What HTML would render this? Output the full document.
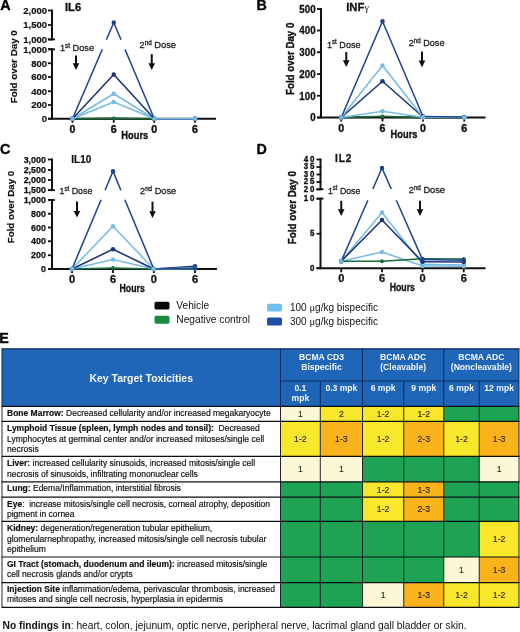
<!DOCTYPE html>
<html lang="en">
<head>
<meta charset="utf-8">
<title>Figure</title>
<style>
html,body{margin:0;padding:0;background:#fff;}
body{width:520px;height:632px;overflow:hidden;}
svg{display:block;font-family:"Liberation Sans",sans-serif;}
</style>
</head>
<body>
<svg width="520" height="632" viewBox="0 0 520 632">
<rect x="0" y="0" width="520" height="632" fill="#fff"/>

<text x="0.2" y="10" font-size="14.3" font-weight="bold" fill="#000" stroke="#000" stroke-width="0.35">A</text>
<text x="256.5" y="10" font-size="14.3" font-weight="bold" fill="#000" stroke="#000" stroke-width="0.35">B</text>
<text x="0" y="154" font-size="14.3" font-weight="bold" fill="#000" stroke="#000" stroke-width="0.35">C</text>
<text x="256.5" y="154" font-size="14.3" font-weight="bold" fill="#000" stroke="#000" stroke-width="0.35">D</text>
<text x="-0.8" y="343.3" font-size="14.3" font-weight="bold" fill="#000" stroke="#000" stroke-width="0.35">E</text>
<g id="chartA">
<path d="M52,9.8 V40.2" stroke="#111" stroke-width="2" fill="none"/>
<path d="M52,48.5 V118.75" stroke="#111" stroke-width="2" fill="none"/>
<path d="M48,118.75 H216" stroke="#111" stroke-width="2" fill="none"/>
<path d="M48,39.400000000000006 H55" stroke="#111" stroke-width="1.8" fill="none"/>
<path d="M48,49.3 H55" stroke="#111" stroke-width="1.8" fill="none"/>
<path d="M48,10.5 H52.9" stroke="#111" stroke-width="1.8" fill="none"/>
<text x="47" y="13.92" font-size="9.5" font-weight="bold" text-anchor="end" fill="#111" stroke="#111" stroke-width="0.2">2,000</text>
<path d="M48,25 H52.9" stroke="#111" stroke-width="1.8" fill="none"/>
<text x="47" y="28.42" font-size="9.5" font-weight="bold" text-anchor="end" fill="#111" stroke="#111" stroke-width="0.2">1,500</text>
<path d="M48,39.5 H52.9" stroke="#111" stroke-width="1.8" fill="none"/>
<text x="47" y="42.92" font-size="9.5" font-weight="bold" text-anchor="end" fill="#111" stroke="#111" stroke-width="0.2">1,000</text>
<path d="M48,49.25 H52.9" stroke="#111" stroke-width="1.8" fill="none"/>
<text x="47" y="52.67" font-size="9.5" font-weight="bold" text-anchor="end" fill="#111" stroke="#111" stroke-width="0.2">1,000</text>
<path d="M48,63.25 H52.9" stroke="#111" stroke-width="1.8" fill="none"/>
<text x="47" y="66.67" font-size="9.5" font-weight="bold" text-anchor="end" fill="#111" stroke="#111" stroke-width="0.2">800</text>
<path d="M48,77 H52.9" stroke="#111" stroke-width="1.8" fill="none"/>
<text x="47" y="80.42" font-size="9.5" font-weight="bold" text-anchor="end" fill="#111" stroke="#111" stroke-width="0.2">600</text>
<path d="M48,91.25 H52.9" stroke="#111" stroke-width="1.8" fill="none"/>
<text x="47" y="94.67" font-size="9.5" font-weight="bold" text-anchor="end" fill="#111" stroke="#111" stroke-width="0.2">400</text>
<path d="M48,105 H52.9" stroke="#111" stroke-width="1.8" fill="none"/>
<text x="47" y="108.42" font-size="9.5" font-weight="bold" text-anchor="end" fill="#111" stroke="#111" stroke-width="0.2">200</text>
<path d="M48,118.75 H52.9" stroke="#111" stroke-width="1.8" fill="none"/>
<text x="47" y="122.17" font-size="9.5" font-weight="bold" text-anchor="end" fill="#111" stroke="#111" stroke-width="0.2">0</text>
<path d="M72.5,118.75 V122.75" stroke="#111" stroke-width="1.8" fill="none"/>
<path d="M113.75,118.75 V122.75" stroke="#111" stroke-width="1.8" fill="none"/>
<path d="M154.25,118.75 V122.75" stroke="#111" stroke-width="1.8" fill="none"/>
<path d="M195,118.75 V122.75" stroke="#111" stroke-width="1.8" fill="none"/>
<text transform="translate(16.6,66.7) rotate(-90)" font-size="9.9" font-weight="bold" text-anchor="middle" textLength="73" lengthAdjust="spacingAndGlyphs" fill="#111" stroke="#111" stroke-width="0.2">Fold over Day 0</text>
<text x="65" y="11.1" font-size="11.2" font-weight="bold" fill="#111" stroke="#111" stroke-width="0.3">IL6</text>
<text x="60" y="51" font-size="9.7" fill="#222" stroke="#222" stroke-width="0.3" textLength="34" lengthAdjust="spacingAndGlyphs">1<tspan font-size="6.6" dy="-3.3">st</tspan><tspan dy="3.3"> Dose</tspan></text>
<path d="M76,55.6 V64.30000000000001" stroke="#111" stroke-width="2" fill="none"/>
<path d="M72.7,63.300000000000004 L79.3,63.300000000000004 L76,69.9 Z" fill="#111"/>
<text x="139.5" y="48" font-size="9.7" fill="#222" stroke="#222" stroke-width="0.3" textLength="36.5" lengthAdjust="spacingAndGlyphs">2<tspan font-size="6.6" dy="-3.3">nd</tspan><tspan dy="3.3"> Dose</tspan></text>
<path d="M151.75,54.1 V64.30000000000001" stroke="#111" stroke-width="2" fill="none"/>
<path d="M148.45,63.300000000000004 L155.05,63.300000000000004 L151.75,69.9 Z" fill="#111"/>
<path d="M72.5,118.75 L113.75,118.4" stroke="#000" stroke-width="1.55" fill="none" stroke-linecap="round"/>
<path d="M113.75,118.4 L154.25,118.75" stroke="#000" stroke-width="1.55" fill="none" stroke-linecap="round"/>
<path d="M154.25,118.75 L195,118.75" stroke="#000" stroke-width="1.55" fill="none" stroke-linecap="round"/>
<circle cx="72.5" cy="118.75" r="1.6" fill="#000"/>
<circle cx="113.75" cy="118.4" r="1.6" fill="#000"/>
<circle cx="154.25" cy="118.75" r="1.6" fill="#000"/>
<circle cx="195" cy="118.75" r="1.6" fill="#000"/>
<path d="M72.5,118.75 L113.75,118.3" stroke="#136f36" stroke-width="1.6" fill="none" stroke-linecap="round"/>
<path d="M113.75,118.3 L154.25,118.75" stroke="#136f36" stroke-width="1.6" fill="none" stroke-linecap="round"/>
<path d="M154.25,118.75 L195,118.75" stroke="#136f36" stroke-width="1.6" fill="none" stroke-linecap="round"/>
<circle cx="72.5" cy="118.75" r="1.9" fill="#136f36"/>
<circle cx="113.75" cy="118.3" r="1.9" fill="#136f36"/>
<circle cx="154.25" cy="118.75" r="1.9" fill="#136f36"/>
<circle cx="195" cy="118.75" r="1.9" fill="#136f36"/>
<path d="M72.5,118.75 L113.75,102" stroke="#79bbe2" stroke-width="1.55" fill="none" stroke-linecap="round"/>
<path d="M113.75,102 L154.25,118.75" stroke="#79bbe2" stroke-width="1.55" fill="none" stroke-linecap="round"/>
<path d="M154.25,118.75 L195,118.75" stroke="#79bbe2" stroke-width="1.55" fill="none" stroke-linecap="round"/>
<circle cx="72.5" cy="118.75" r="2.25" fill="#79bbe2"/>
<circle cx="113.75" cy="102" r="2.25" fill="#79bbe2"/>
<circle cx="154.25" cy="118.75" r="2.25" fill="#79bbe2"/>
<circle cx="195" cy="118.75" r="2.25" fill="#79bbe2"/>
<path d="M72.5,118.75 L113.75,93.75" stroke="#79bbe2" stroke-width="1.55" fill="none" stroke-linecap="round"/>
<path d="M113.75,93.75 L154.25,118.75" stroke="#79bbe2" stroke-width="1.55" fill="none" stroke-linecap="round"/>
<path d="M154.25,118.75 L195,118.75" stroke="#79bbe2" stroke-width="1.55" fill="none" stroke-linecap="round"/>
<circle cx="72.5" cy="118.75" r="2.25" fill="#79bbe2"/>
<circle cx="113.75" cy="93.75" r="2.25" fill="#79bbe2"/>
<circle cx="154.25" cy="118.75" r="2.25" fill="#79bbe2"/>
<circle cx="195" cy="118.75" r="2.25" fill="#79bbe2"/>
<path d="M72.5,118.75 L113.75,74.5" stroke="#1b3579" stroke-width="1.55" fill="none" stroke-linecap="round"/>
<path d="M113.75,74.5 L154.25,118.75" stroke="#1b3579" stroke-width="1.55" fill="none" stroke-linecap="round"/>
<path d="M154.25,118.75 L195,118.75" stroke="#1b3579" stroke-width="1.55" fill="none" stroke-linecap="round"/>
<circle cx="72.5" cy="118.75" r="2.25" fill="#1b3579"/>
<circle cx="113.75" cy="74.5" r="2.25" fill="#1b3579"/>
<circle cx="154.25" cy="118.75" r="2.25" fill="#1b3579"/>
<circle cx="195" cy="118.75" r="2.25" fill="#1b3579"/>
<path d="M72.5,118.75 L102.31,49.2" stroke="#21448f" stroke-width="1.55" fill="none"/>
<path d="M106.34,39.8 L113.75,22.5" stroke="#21448f" stroke-width="1.55" fill="none"/>
<path d="M113.75,22.5 L121.03,39.8" stroke="#21448f" stroke-width="1.55" fill="none"/>
<path d="M124.98,49.2 L154.25,118.75" stroke="#21448f" stroke-width="1.55" fill="none"/>
<path d="M154.25,118.75 L195,118.75" stroke="#21448f" stroke-width="1.55" fill="none" stroke-linecap="round"/>
<circle cx="72.5" cy="118.75" r="2.25" fill="#21448f"/>
<circle cx="113.75" cy="22.5" r="2.25" fill="#21448f"/>
<circle cx="154.25" cy="118.75" r="2.25" fill="#21448f"/>
<circle cx="195" cy="118.75" r="2.25" fill="#21448f"/>
<path d="M154.25,118.75 L195,118.75" stroke="#79bbe2" stroke-width="1.5" fill="none" stroke-linecap="round"/>
<circle cx="154.25" cy="118.75" r="2.25" fill="#79bbe2"/>
<circle cx="195" cy="118.75" r="2.25" fill="#79bbe2"/>
<circle cx="72.5" cy="118.75" r="2.25" fill="#79bbe2"/>
<text transform="translate(72.5,132.6) scale(1,1)" font-size="10.6" font-weight="bold" text-anchor="middle" fill="#111" stroke="#111" stroke-width="0.4">0</text>
<text transform="translate(113.75,132.6) scale(1,1)" font-size="10.6" font-weight="bold" text-anchor="middle" fill="#111" stroke="#111" stroke-width="0.4">6</text>
<text transform="translate(154.25,132.6) scale(1,1)" font-size="10.6" font-weight="bold" text-anchor="middle" fill="#111" stroke="#111" stroke-width="0.4">0</text>
<text transform="translate(195,132.6) scale(1,1)" font-size="10.6" font-weight="bold" text-anchor="middle" fill="#111" stroke="#111" stroke-width="0.4">6</text>
<text transform="translate(134.75,138.8) scale(0.86,1)" font-size="10.8" font-weight="bold" text-anchor="middle" fill="#111" stroke="#111" stroke-width="0.35">Hours</text>
</g>
<g id="chartB">
<path d="M321,8.3 V117.5" stroke="#111" stroke-width="2" fill="none"/>
<path d="M317,117.5 H485.5" stroke="#111" stroke-width="2" fill="none"/>
<path d="M317,9 H321.9" stroke="#111" stroke-width="1.8" fill="none"/>
<text transform="translate(315.6,12.82) scale(0.92,1)" font-size="10.6" font-weight="bold" text-anchor="end" fill="#111" stroke="#111" stroke-width="0.3">500</text>
<path d="M317,30.5 H321.9" stroke="#111" stroke-width="1.8" fill="none"/>
<text transform="translate(315.6,34.32) scale(0.92,1)" font-size="10.6" font-weight="bold" text-anchor="end" fill="#111" stroke="#111" stroke-width="0.3">400</text>
<path d="M317,52.25 H321.9" stroke="#111" stroke-width="1.8" fill="none"/>
<text transform="translate(315.6,56.07) scale(0.92,1)" font-size="10.6" font-weight="bold" text-anchor="end" fill="#111" stroke="#111" stroke-width="0.3">300</text>
<path d="M317,74 H321.9" stroke="#111" stroke-width="1.8" fill="none"/>
<text transform="translate(315.6,77.82) scale(0.92,1)" font-size="10.6" font-weight="bold" text-anchor="end" fill="#111" stroke="#111" stroke-width="0.3">200</text>
<path d="M317,95.75 H321.9" stroke="#111" stroke-width="1.8" fill="none"/>
<text transform="translate(315.6,99.57) scale(0.92,1)" font-size="10.6" font-weight="bold" text-anchor="end" fill="#111" stroke="#111" stroke-width="0.3">100</text>
<path d="M317,117.5 H321.9" stroke="#111" stroke-width="1.8" fill="none"/>
<text transform="translate(315.6,121.32) scale(0.92,1)" font-size="10.6" font-weight="bold" text-anchor="end" fill="#111" stroke="#111" stroke-width="0.3">0</text>
<path d="M341.25,117.5 V121.5" stroke="#111" stroke-width="1.8" fill="none"/>
<path d="M382.5,117.5 V121.5" stroke="#111" stroke-width="1.8" fill="none"/>
<path d="M423,117.5 V121.5" stroke="#111" stroke-width="1.8" fill="none"/>
<path d="M464.25,117.5 V121.5" stroke="#111" stroke-width="1.8" fill="none"/>
<text transform="translate(293.7,58.8) rotate(-90)" font-size="11" font-weight="bold" text-anchor="middle" textLength="72.3" lengthAdjust="spacingAndGlyphs" fill="#111" stroke="#111" stroke-width="0.4">Fold over Day 0</text>
<text x="346.2" y="11.4" font-size="11.3" font-weight="bold" fill="#111" stroke="#111" stroke-width="0.3">INF<tspan font-weight="normal" stroke="none" font-family="'Liberation Serif',serif" font-size="10">γ</tspan></text>
<text x="327" y="47.5" font-size="9.7" fill="#222" stroke="#222" stroke-width="0.3" textLength="33.5" lengthAdjust="spacingAndGlyphs">1<tspan font-size="6.6" dy="-3.3">st</tspan><tspan dy="3.3"> Dose</tspan></text>
<path d="M346.25,52.1 V61.300000000000004" stroke="#111" stroke-width="2" fill="none"/>
<path d="M342.95,60.300000000000004 L349.55,60.300000000000004 L346.25,66.9 Z" fill="#111"/>
<text x="408.75" y="46.25" font-size="9.7" fill="#222" stroke="#222" stroke-width="0.3" textLength="35.75" lengthAdjust="spacingAndGlyphs">2<tspan font-size="6.6" dy="-3.3">nd</tspan><tspan dy="3.3"> Dose</tspan></text>
<path d="M422,51.6 V61.550000000000004" stroke="#111" stroke-width="2" fill="none"/>
<path d="M418.7,60.550000000000004 L425.3,60.550000000000004 L422,67.15 Z" fill="#111"/>
<path d="M341.25,117.5 L382.5,117.2" stroke="#000" stroke-width="1.55" fill="none" stroke-linecap="round"/>
<path d="M382.5,117.2 L423,117.5" stroke="#000" stroke-width="1.55" fill="none" stroke-linecap="round"/>
<path d="M423,117.5 L464.25,117.5" stroke="#000" stroke-width="1.55" fill="none" stroke-linecap="round"/>
<circle cx="341.25" cy="117.5" r="1.6" fill="#000"/>
<circle cx="382.5" cy="117.2" r="1.6" fill="#000"/>
<circle cx="423" cy="117.5" r="1.6" fill="#000"/>
<circle cx="464.25" cy="117.5" r="1.6" fill="#000"/>
<path d="M341.25,117.5 L382.5,116.3" stroke="#136f36" stroke-width="1.6" fill="none" stroke-linecap="round"/>
<path d="M382.5,116.3 L423,117.5" stroke="#136f36" stroke-width="1.6" fill="none" stroke-linecap="round"/>
<path d="M423,117.5 L464.25,117.5" stroke="#136f36" stroke-width="1.6" fill="none" stroke-linecap="round"/>
<circle cx="341.25" cy="117.5" r="1.9" fill="#136f36"/>
<circle cx="382.5" cy="116.3" r="1.9" fill="#136f36"/>
<circle cx="423" cy="117.5" r="1.9" fill="#136f36"/>
<circle cx="464.25" cy="117.5" r="1.9" fill="#136f36"/>
<path d="M341.25,117.5 L382.5,111.25" stroke="#79bbe2" stroke-width="1.55" fill="none" stroke-linecap="round"/>
<path d="M382.5,111.25 L423,117.3" stroke="#79bbe2" stroke-width="1.55" fill="none" stroke-linecap="round"/>
<path d="M423,117.3 L464.25,117.3" stroke="#79bbe2" stroke-width="1.55" fill="none" stroke-linecap="round"/>
<circle cx="341.25" cy="117.5" r="2.25" fill="#79bbe2"/>
<circle cx="382.5" cy="111.25" r="2.25" fill="#79bbe2"/>
<circle cx="423" cy="117.3" r="2.25" fill="#79bbe2"/>
<circle cx="464.25" cy="117.3" r="2.25" fill="#79bbe2"/>
<path d="M341.25,117.5 L382.5,81.25" stroke="#1b3579" stroke-width="1.55" fill="none" stroke-linecap="round"/>
<path d="M382.5,81.25 L423,117" stroke="#1b3579" stroke-width="1.55" fill="none" stroke-linecap="round"/>
<path d="M423,117 L464.25,117.2" stroke="#1b3579" stroke-width="1.55" fill="none" stroke-linecap="round"/>
<circle cx="341.25" cy="117.5" r="2.25" fill="#1b3579"/>
<circle cx="382.5" cy="81.25" r="2.25" fill="#1b3579"/>
<circle cx="423" cy="117" r="2.25" fill="#1b3579"/>
<circle cx="464.25" cy="117.2" r="2.25" fill="#1b3579"/>
<path d="M341.25,117.5 L382.5,65.5" stroke="#79bbe2" stroke-width="1.55" fill="none" stroke-linecap="round"/>
<path d="M382.5,65.5 L423,117.2" stroke="#79bbe2" stroke-width="1.55" fill="none" stroke-linecap="round"/>
<path d="M423,117.2 L464.25,117.3" stroke="#79bbe2" stroke-width="1.55" fill="none" stroke-linecap="round"/>
<circle cx="341.25" cy="117.5" r="2.25" fill="#79bbe2"/>
<circle cx="382.5" cy="65.5" r="2.25" fill="#79bbe2"/>
<circle cx="423" cy="117.2" r="2.25" fill="#79bbe2"/>
<circle cx="464.25" cy="117.3" r="2.25" fill="#79bbe2"/>
<path d="M341.25,117.5 L382.5,21.25" stroke="#21448f" stroke-width="1.55" fill="none" stroke-linecap="round"/>
<path d="M382.5,21.25 L423,116.5" stroke="#21448f" stroke-width="1.55" fill="none" stroke-linecap="round"/>
<path d="M423,116.5 L464.25,117" stroke="#21448f" stroke-width="1.55" fill="none" stroke-linecap="round"/>
<circle cx="341.25" cy="117.5" r="2.25" fill="#21448f"/>
<circle cx="382.5" cy="21.25" r="2.25" fill="#21448f"/>
<circle cx="423" cy="116.5" r="2.25" fill="#21448f"/>
<circle cx="464.25" cy="117" r="2.25" fill="#21448f"/>
<path d="M341.25,117.5 L423,117.3" stroke="#79bbe2" stroke-width="0.1" fill="none" stroke-linecap="round"/>
<path d="M423,117.3 L464.25,117.2" stroke="#79bbe2" stroke-width="0.1" fill="none" stroke-linecap="round"/>
<circle cx="341.25" cy="117.5" r="2.25" fill="#79bbe2"/>
<circle cx="423" cy="117.3" r="2.25" fill="#79bbe2"/>
<circle cx="464.25" cy="117.2" r="2.25" fill="#79bbe2"/>
<text transform="translate(341.25,131.9) scale(1,1)" font-size="10.6" font-weight="bold" text-anchor="middle" fill="#111" stroke="#111" stroke-width="0.4">0</text>
<text transform="translate(382.5,131.9) scale(1,1)" font-size="10.6" font-weight="bold" text-anchor="middle" fill="#111" stroke="#111" stroke-width="0.4">6</text>
<text transform="translate(423,131.9) scale(1,1)" font-size="10.6" font-weight="bold" text-anchor="middle" fill="#111" stroke="#111" stroke-width="0.4">0</text>
<text transform="translate(464.25,131.9) scale(1,1)" font-size="10.6" font-weight="bold" text-anchor="middle" fill="#111" stroke="#111" stroke-width="0.4">6</text>
<text transform="translate(404,138.4) scale(0.86,1)" font-size="10.8" font-weight="bold" text-anchor="middle" fill="#111" stroke="#111" stroke-width="0.35">Hours</text>
</g>
<g id="chartC">
<path d="M52,158.8 V191" stroke="#111" stroke-width="2" fill="none"/>
<path d="M52,199.2 V269" stroke="#111" stroke-width="2" fill="none"/>
<path d="M48,269 H217" stroke="#111" stroke-width="2" fill="none"/>
<path d="M48,190.2 H55" stroke="#111" stroke-width="1.8" fill="none"/>
<path d="M48,200.0 H55" stroke="#111" stroke-width="1.8" fill="none"/>
<path d="M48,159.5 H52.9" stroke="#111" stroke-width="1.8" fill="none"/>
<text x="45.9" y="162.7" font-size="8.9" font-weight="bold" text-anchor="end" fill="#111" stroke="#111" stroke-width="0.25">3,000</text>
<path d="M48,170 H52.9" stroke="#111" stroke-width="1.8" fill="none"/>
<text x="45.9" y="173.2" font-size="8.9" font-weight="bold" text-anchor="end" fill="#111" stroke="#111" stroke-width="0.25">2,500</text>
<path d="M48,180 H52.9" stroke="#111" stroke-width="1.8" fill="none"/>
<text x="45.9" y="183.2" font-size="8.9" font-weight="bold" text-anchor="end" fill="#111" stroke="#111" stroke-width="0.25">2,000</text>
<path d="M48,190 H52.9" stroke="#111" stroke-width="1.8" fill="none"/>
<text x="45.9" y="193.2" font-size="8.9" font-weight="bold" text-anchor="end" fill="#111" stroke="#111" stroke-width="0.25">1,500</text>
<path d="M48,200 H52.9" stroke="#111" stroke-width="1.8" fill="none"/>
<text x="45.9" y="203.2" font-size="8.9" font-weight="bold" text-anchor="end" fill="#111" stroke="#111" stroke-width="0.25">1,000</text>
<path d="M48,213.75 H52.9" stroke="#111" stroke-width="1.8" fill="none"/>
<text x="45.9" y="216.95" font-size="8.9" font-weight="bold" text-anchor="end" fill="#111" stroke="#111" stroke-width="0.25">800</text>
<path d="M48,227.5 H52.9" stroke="#111" stroke-width="1.8" fill="none"/>
<text x="45.9" y="230.7" font-size="8.9" font-weight="bold" text-anchor="end" fill="#111" stroke="#111" stroke-width="0.25">600</text>
<path d="M48,241.25 H52.9" stroke="#111" stroke-width="1.8" fill="none"/>
<text x="45.9" y="244.45" font-size="8.9" font-weight="bold" text-anchor="end" fill="#111" stroke="#111" stroke-width="0.25">400</text>
<path d="M48,255.25 H52.9" stroke="#111" stroke-width="1.8" fill="none"/>
<text x="45.9" y="258.45" font-size="8.9" font-weight="bold" text-anchor="end" fill="#111" stroke="#111" stroke-width="0.25">200</text>
<path d="M48,269 H52.9" stroke="#111" stroke-width="1.8" fill="none"/>
<text x="45.9" y="272.2" font-size="8.9" font-weight="bold" text-anchor="end" fill="#111" stroke="#111" stroke-width="0.25">0</text>
<path d="M72,269 V273" stroke="#111" stroke-width="1.8" fill="none"/>
<path d="M113,269 V273" stroke="#111" stroke-width="1.8" fill="none"/>
<path d="M153.75,269 V273" stroke="#111" stroke-width="1.8" fill="none"/>
<path d="M195,269 V273" stroke="#111" stroke-width="1.8" fill="none"/>
<text transform="translate(13.8,207) rotate(-90)" font-size="9.7" font-weight="bold" text-anchor="middle" textLength="72.5" lengthAdjust="spacingAndGlyphs" fill="#111" stroke="#111" stroke-width="0.2">Fold over Day 0</text>
<text x="71.25" y="162.5" font-size="10" font-weight="bold" fill="#111" stroke="#111" stroke-width="0.2">IL10</text>
<text x="59.5" y="194" font-size="9.7" fill="#222" stroke="#222" stroke-width="0.3" textLength="33.0" lengthAdjust="spacingAndGlyphs">1<tspan font-size="6.6" dy="-3.3">st</tspan><tspan dy="3.3"> Dose</tspan></text>
<path d="M77,201.6 V211.9" stroke="#111" stroke-width="2" fill="none"/>
<path d="M73.7,210.9 L80.3,210.9 L77,217.5 Z" fill="#111"/>
<text x="140" y="194" font-size="9.7" fill="#222" stroke="#222" stroke-width="0.3" textLength="36.25" lengthAdjust="spacingAndGlyphs">2<tspan font-size="6.6" dy="-3.3">nd</tspan><tspan dy="3.3"> Dose</tspan></text>
<path d="M152.5,201.6 V212.3" stroke="#111" stroke-width="2" fill="none"/>
<path d="M149.2,211.3 L155.8,211.3 L152.5,217.9 Z" fill="#111"/>
<path d="M72,269 L113,268.8" stroke="#000" stroke-width="1.55" fill="none" stroke-linecap="round"/>
<path d="M113,268.8 L153.75,269" stroke="#000" stroke-width="1.55" fill="none" stroke-linecap="round"/>
<path d="M153.75,269 L195,269" stroke="#000" stroke-width="1.55" fill="none" stroke-linecap="round"/>
<circle cx="72" cy="269" r="1.6" fill="#000"/>
<circle cx="113" cy="268.8" r="1.6" fill="#000"/>
<circle cx="153.75" cy="269" r="1.6" fill="#000"/>
<circle cx="195" cy="269" r="1.6" fill="#000"/>
<path d="M72,269 L113,268" stroke="#136f36" stroke-width="1.6" fill="none" stroke-linecap="round"/>
<path d="M113,268 L153.75,269" stroke="#136f36" stroke-width="1.6" fill="none" stroke-linecap="round"/>
<path d="M153.75,269 L195,269" stroke="#136f36" stroke-width="1.6" fill="none" stroke-linecap="round"/>
<circle cx="72" cy="269" r="1.9" fill="#136f36"/>
<circle cx="113" cy="268" r="1.9" fill="#136f36"/>
<circle cx="153.75" cy="269" r="1.9" fill="#136f36"/>
<circle cx="195" cy="269" r="1.9" fill="#136f36"/>
<path d="M72,269 L113,259.5" stroke="#79bbe2" stroke-width="1.55" fill="none" stroke-linecap="round"/>
<path d="M113,259.5 L153.75,269" stroke="#79bbe2" stroke-width="1.55" fill="none" stroke-linecap="round"/>
<path d="M153.75,269 L195,268.5" stroke="#79bbe2" stroke-width="1.55" fill="none" stroke-linecap="round"/>
<circle cx="72" cy="269" r="2.25" fill="#79bbe2"/>
<circle cx="113" cy="259.5" r="2.25" fill="#79bbe2"/>
<circle cx="153.75" cy="269" r="2.25" fill="#79bbe2"/>
<circle cx="195" cy="268.5" r="2.25" fill="#79bbe2"/>
<path d="M72,269 L113,249.25" stroke="#1b3579" stroke-width="1.55" fill="none" stroke-linecap="round"/>
<path d="M113,249.25 L153.75,269" stroke="#1b3579" stroke-width="1.55" fill="none" stroke-linecap="round"/>
<path d="M153.75,269 L195,266.25" stroke="#1b3579" stroke-width="1.55" fill="none" stroke-linecap="round"/>
<circle cx="72" cy="269" r="2.25" fill="#1b3579"/>
<circle cx="113" cy="249.25" r="2.25" fill="#1b3579"/>
<circle cx="153.75" cy="269" r="2.25" fill="#1b3579"/>
<circle cx="195" cy="266.25" r="2.25" fill="#1b3579"/>
<path d="M72,269 L113,226.25" stroke="#79bbe2" stroke-width="1.55" fill="none" stroke-linecap="round"/>
<path d="M113,226.25 L153.75,269" stroke="#79bbe2" stroke-width="1.55" fill="none" stroke-linecap="round"/>
<path d="M153.75,269 L195,268" stroke="#79bbe2" stroke-width="1.55" fill="none" stroke-linecap="round"/>
<circle cx="72" cy="269" r="2.25" fill="#79bbe2"/>
<circle cx="113" cy="226.25" r="2.25" fill="#79bbe2"/>
<circle cx="153.75" cy="269" r="2.25" fill="#79bbe2"/>
<circle cx="195" cy="268" r="2.25" fill="#79bbe2"/>
<path d="M72,269 L101.07,199.7" stroke="#21448f" stroke-width="1.55" fill="none"/>
<path d="M105.05,190.2 L113,171.25" stroke="#21448f" stroke-width="1.55" fill="none"/>
<path d="M113,171.25 L120.90,190.2" stroke="#21448f" stroke-width="1.55" fill="none"/>
<path d="M124.86,199.7 L153.75,269" stroke="#21448f" stroke-width="1.55" fill="none"/>
<path d="M153.75,269 L195,268.2" stroke="#21448f" stroke-width="1.55" fill="none" stroke-linecap="round"/>
<circle cx="72" cy="269" r="2.25" fill="#21448f"/>
<circle cx="113" cy="171.25" r="2.25" fill="#21448f"/>
<circle cx="153.75" cy="269" r="2.25" fill="#21448f"/>
<circle cx="195" cy="268.2" r="2.25" fill="#21448f"/>
<path d="M72,269 L153.75,269" stroke="#79bbe2" stroke-width="0.1" fill="none" stroke-linecap="round"/>
<circle cx="72" cy="269" r="2.25" fill="#79bbe2"/>
<circle cx="153.75" cy="269" r="2.25" fill="#79bbe2"/>
<text transform="translate(72,283) scale(1.05,1)" font-size="10.5" font-weight="bold" text-anchor="middle" fill="#111" stroke="#111" stroke-width="0.3">0</text>
<text transform="translate(113,283) scale(1.05,1)" font-size="10.5" font-weight="bold" text-anchor="middle" fill="#111" stroke="#111" stroke-width="0.3">6</text>
<text transform="translate(153.75,283) scale(1.05,1)" font-size="10.5" font-weight="bold" text-anchor="middle" fill="#111" stroke="#111" stroke-width="0.3">0</text>
<text transform="translate(195,283) scale(1.05,1)" font-size="10.5" font-weight="bold" text-anchor="middle" fill="#111" stroke="#111" stroke-width="0.3">6</text>
<text transform="translate(132.1,291.6) scale(0.86,1)" font-size="10.2" font-weight="bold" text-anchor="middle" fill="#111" stroke="#111" stroke-width="0.3">Hours</text>
</g>
<g id="chartD">
<path d="M320.5,158.8 V190" stroke="#111" stroke-width="2" fill="none"/>
<path d="M320.5,197.8 V268.25" stroke="#111" stroke-width="2" fill="none"/>
<path d="M316.5,268.25 H485.5" stroke="#111" stroke-width="2" fill="none"/>
<path d="M316.5,189.2 H323.5" stroke="#111" stroke-width="1.8" fill="none"/>
<path d="M316.5,198.60000000000002 H323.5" stroke="#111" stroke-width="1.8" fill="none"/>
<path d="M316.5,159.5 H321.4" stroke="#111" stroke-width="1.8" fill="none"/>
<text transform="translate(316.2,161.97) scale(0.9,1)" font-size="8.8" font-weight="bold" text-anchor="end" fill="#111" letter-spacing="2" stroke="#111" stroke-width="0.35">40</text>
<path d="M316.5,167 H321.4" stroke="#111" stroke-width="1.8" fill="none"/>
<text transform="translate(316.2,169.47) scale(0.9,1)" font-size="8.8" font-weight="bold" text-anchor="end" fill="#111" letter-spacing="2" stroke="#111" stroke-width="0.35">35</text>
<path d="M316.5,174.5 H321.4" stroke="#111" stroke-width="1.8" fill="none"/>
<text transform="translate(316.2,176.97) scale(0.9,1)" font-size="8.8" font-weight="bold" text-anchor="end" fill="#111" letter-spacing="2" stroke="#111" stroke-width="0.35">30</text>
<path d="M316.5,182 H321.4" stroke="#111" stroke-width="1.8" fill="none"/>
<text transform="translate(316.2,184.47) scale(0.9,1)" font-size="8.8" font-weight="bold" text-anchor="end" fill="#111" letter-spacing="2" stroke="#111" stroke-width="0.35">25</text>
<path d="M316.5,189.5 H321.4" stroke="#111" stroke-width="1.8" fill="none"/>
<text transform="translate(316.2,191.97) scale(0.9,1)" font-size="8.8" font-weight="bold" text-anchor="end" fill="#111" letter-spacing="2" stroke="#111" stroke-width="0.35">20</text>
<path d="M316.5,198.75 H321.4" stroke="#111" stroke-width="1.8" fill="none"/>
<text transform="translate(316.2,201.22) scale(0.9,1)" font-size="8.8" font-weight="bold" text-anchor="end" fill="#111" letter-spacing="2" stroke="#111" stroke-width="0.35">10</text>
<path d="M316.5,233.75 H321.4" stroke="#111" stroke-width="1.8" fill="none"/>
<text transform="translate(316.2,236.22) scale(0.9,1)" font-size="8.8" font-weight="bold" text-anchor="end" fill="#111" letter-spacing="2" stroke="#111" stroke-width="0.35">5</text>
<path d="M316.5,268.25 H321.4" stroke="#111" stroke-width="1.8" fill="none"/>
<text transform="translate(316.2,270.72) scale(0.9,1)" font-size="8.8" font-weight="bold" text-anchor="end" fill="#111" letter-spacing="2" stroke="#111" stroke-width="0.35">0</text>
<path d="M341.25,268.25 V272.25" stroke="#111" stroke-width="1.8" fill="none"/>
<path d="M382,268.25 V272.25" stroke="#111" stroke-width="1.8" fill="none"/>
<path d="M422.5,268.25 V272.25" stroke="#111" stroke-width="1.8" fill="none"/>
<path d="M463.75,268.25 V272.25" stroke="#111" stroke-width="1.8" fill="none"/>
<text transform="translate(296,207.6) rotate(-90)" font-size="11" font-weight="bold" text-anchor="middle" textLength="73.2" lengthAdjust="spacingAndGlyphs" fill="#111" stroke="#111" stroke-width="0.4">Fold over Day 0</text>
<text x="335" y="162.2" font-size="10" font-weight="bold" fill="#111" letter-spacing="0.9" stroke="#111" stroke-width="0.3">IL2</text>
<text x="328" y="193.75" font-size="9.7" fill="#222" stroke="#222" stroke-width="0.3" textLength="32.35000000000002" lengthAdjust="spacingAndGlyphs">1<tspan font-size="6.6" dy="-3.3">st</tspan><tspan dy="3.3"> Dose</tspan></text>
<path d="M341.25,200.85 V210.3" stroke="#111" stroke-width="2" fill="none"/>
<path d="M337.95,209.3 L344.55,209.3 L341.25,215.9 Z" fill="#111"/>
<text x="408.75" y="193" font-size="9.7" fill="#222" stroke="#222" stroke-width="0.3" textLength="36.25" lengthAdjust="spacingAndGlyphs">2<tspan font-size="6.6" dy="-3.3">nd</tspan><tspan dy="3.3"> Dose</tspan></text>
<path d="M420,200.85 V210.3" stroke="#111" stroke-width="2" fill="none"/>
<path d="M416.7,209.3 L423.3,209.3 L420,215.9 Z" fill="#111"/>
<path d="M341.25,261.25 L382,252" stroke="#79bbe2" stroke-width="1.55" fill="none" stroke-linecap="round"/>
<path d="M382,252 L422.5,266" stroke="#79bbe2" stroke-width="1.55" fill="none" stroke-linecap="round"/>
<path d="M422.5,266 L463.75,266.3" stroke="#79bbe2" stroke-width="1.55" fill="none" stroke-linecap="round"/>
<circle cx="341.25" cy="261.25" r="2.25" fill="#79bbe2"/>
<circle cx="382" cy="252" r="2.25" fill="#79bbe2"/>
<circle cx="422.5" cy="266" r="2.25" fill="#79bbe2"/>
<circle cx="463.75" cy="266.3" r="2.25" fill="#79bbe2"/>
<path d="M341.25,261.25 L382,212.5" stroke="#79bbe2" stroke-width="1.55" fill="none" stroke-linecap="round"/>
<path d="M382,212.5 L422.5,264.25" stroke="#79bbe2" stroke-width="1.55" fill="none" stroke-linecap="round"/>
<path d="M422.5,264.25 L463.75,265" stroke="#79bbe2" stroke-width="1.55" fill="none" stroke-linecap="round"/>
<circle cx="341.25" cy="261.25" r="2.25" fill="#79bbe2"/>
<circle cx="382" cy="212.5" r="2.25" fill="#79bbe2"/>
<circle cx="422.5" cy="264.25" r="2.25" fill="#79bbe2"/>
<circle cx="463.75" cy="265" r="2.25" fill="#79bbe2"/>
<path d="M341.25,261.25 L382,261.25" stroke="#136f36" stroke-width="1.6" fill="none" stroke-linecap="round"/>
<path d="M382,261.25 L422.5,258.75" stroke="#136f36" stroke-width="1.6" fill="none" stroke-linecap="round"/>
<path d="M422.5,258.75 L463.75,259" stroke="#136f36" stroke-width="1.6" fill="none" stroke-linecap="round"/>
<circle cx="341.25" cy="261.25" r="1.9" fill="#136f36"/>
<circle cx="382" cy="261.25" r="1.9" fill="#136f36"/>
<circle cx="422.5" cy="258.75" r="1.9" fill="#136f36"/>
<circle cx="463.75" cy="259" r="1.9" fill="#136f36"/>
<path d="M341.25,261.25 L382,220" stroke="#1b3579" stroke-width="1.55" fill="none" stroke-linecap="round"/>
<path d="M382,220 L422.5,261.75" stroke="#1b3579" stroke-width="1.55" fill="none" stroke-linecap="round"/>
<path d="M422.5,261.75 L463.75,262" stroke="#1b3579" stroke-width="1.55" fill="none" stroke-linecap="round"/>
<circle cx="341.25" cy="261.25" r="2.25" fill="#1b3579"/>
<circle cx="382" cy="220" r="2.25" fill="#1b3579"/>
<circle cx="422.5" cy="261.75" r="2.25" fill="#1b3579"/>
<circle cx="463.75" cy="262" r="2.25" fill="#1b3579"/>
<path d="M341.25,261.25 L367.88,200.3" stroke="#21448f" stroke-width="1.55" fill="none"/>
<path d="M372.82,189 L382,168" stroke="#21448f" stroke-width="1.55" fill="none"/>
<path d="M382,168 L391.28,189" stroke="#21448f" stroke-width="1.55" fill="none"/>
<path d="M396.28,200.3 L422.5,259.6" stroke="#21448f" stroke-width="1.55" fill="none"/>
<path d="M422.5,259.6 L463.75,260.2" stroke="#21448f" stroke-width="1.55" fill="none" stroke-linecap="round"/>
<circle cx="341.25" cy="261.25" r="2.25" fill="#21448f"/>
<circle cx="382" cy="168" r="2.25" fill="#21448f"/>
<circle cx="422.5" cy="259.6" r="2.25" fill="#21448f"/>
<circle cx="463.75" cy="260.2" r="2.25" fill="#21448f"/>
<circle cx="341.25" cy="261.25" r="2.25" fill="#79bbe2"/>
<text transform="translate(341.25,282.1) scale(1.05,1)" font-size="10.5" font-weight="bold" text-anchor="middle" fill="#111" stroke="#111" stroke-width="0.3">0</text>
<text transform="translate(382,282.1) scale(1.05,1)" font-size="10.5" font-weight="bold" text-anchor="middle" fill="#111" stroke="#111" stroke-width="0.3">6</text>
<text transform="translate(422.5,282.1) scale(1.05,1)" font-size="10.5" font-weight="bold" text-anchor="middle" fill="#111" stroke="#111" stroke-width="0.3">0</text>
<text transform="translate(463.75,282.1) scale(1.05,1)" font-size="10.5" font-weight="bold" text-anchor="middle" fill="#111" stroke="#111" stroke-width="0.3">6</text>
<text transform="translate(402.3,290.8) scale(0.86,1)" font-size="10.2" font-weight="bold" text-anchor="middle" fill="#111" stroke="#111" stroke-width="0.3">Hours</text>
</g>
<g id="legend">
<rect x="154.5" y="301.8" width="15" height="7.8" rx="1.6" ry="1.6" fill="#0a0a0a"/>
<rect x="154.5" y="315.8" width="15" height="7.9" rx="1.6" ry="1.6" fill="#1b8a3f"/>
<rect x="267" y="303.7" width="15" height="7.7" rx="1.6" ry="1.6" fill="#6fc0ee"/>
<rect x="267" y="317.6" width="15" height="7.9" rx="1.6" ry="1.6" fill="#2050a5"/>
<text x="176.3" y="308.5" font-size="10.2" fill="#111">Vehicle</text>
<text x="176.3" y="322.8" font-size="10.2" fill="#111">Negative control</text>
<text x="290" y="310.5" font-size="10" fill="#111">100 <tspan font-family="'Liberation Serif',serif" font-size="10.5">μ</tspan>g/kg bispecific</text>
<text x="290" y="324.5" font-size="10" fill="#111">300 <tspan font-family="'Liberation Serif',serif" font-size="10.5">μ</tspan>g/kg bispecific</text>
</g>
<g id="table">
<rect x="2" y="348.8" width="517" height="57.5" fill="#1f66b8"/>
<rect x="2" y="406.3" width="278.5" height="15.0" fill="#ffffff"/>
<rect x="280.5" y="406.3" width="39.80" height="15.00" fill="#fcf7d6"/>
<rect x="320.3" y="406.3" width="42.20" height="15.00" fill="#f8e72a"/>
<rect x="362.5" y="406.3" width="41.25" height="15.00" fill="#f8e72a"/>
<rect x="403.75" y="406.3" width="40.00" height="15.00" fill="#f8e72a"/>
<rect x="443.75" y="406.3" width="35.50" height="15.00" fill="#1ea355"/>
<rect x="479.25" y="406.3" width="39.75" height="15.00" fill="#1ea355"/>
<rect x="2" y="421.3" width="278.5" height="35.099999999999966" fill="#ffffff"/>
<rect x="280.5" y="421.3" width="39.80" height="35.10" fill="#f8e72a"/>
<rect x="320.3" y="421.3" width="42.20" height="35.10" fill="#fbb31c"/>
<rect x="362.5" y="421.3" width="41.25" height="35.10" fill="#f8e72a"/>
<rect x="403.75" y="421.3" width="40.00" height="35.10" fill="#fbb31c"/>
<rect x="443.75" y="421.3" width="35.50" height="35.10" fill="#f8e72a"/>
<rect x="479.25" y="421.3" width="39.75" height="35.10" fill="#fbb31c"/>
<rect x="2" y="456.4" width="278.5" height="25.400000000000034" fill="#ffffff"/>
<rect x="280.5" y="456.4" width="39.80" height="25.40" fill="#fcf7d6"/>
<rect x="320.3" y="456.4" width="42.20" height="25.40" fill="#fcf7d6"/>
<rect x="362.5" y="456.4" width="41.25" height="25.40" fill="#1ea355"/>
<rect x="403.75" y="456.4" width="40.00" height="25.40" fill="#1ea355"/>
<rect x="443.75" y="456.4" width="35.50" height="25.40" fill="#1ea355"/>
<rect x="479.25" y="456.4" width="39.75" height="25.40" fill="#fcf7d6"/>
<rect x="2" y="481.8" width="278.5" height="15.399999999999977" fill="#ffffff"/>
<rect x="280.5" y="481.8" width="39.80" height="15.40" fill="#1ea355"/>
<rect x="320.3" y="481.8" width="42.20" height="15.40" fill="#1ea355"/>
<rect x="362.5" y="481.8" width="41.25" height="15.40" fill="#f8e72a"/>
<rect x="403.75" y="481.8" width="40.00" height="15.40" fill="#fbb31c"/>
<rect x="443.75" y="481.8" width="35.50" height="15.40" fill="#1ea355"/>
<rect x="479.25" y="481.8" width="39.75" height="15.40" fill="#1ea355"/>
<rect x="2" y="497.2" width="278.5" height="24.099999999999966" fill="#ffffff"/>
<rect x="280.5" y="497.2" width="39.80" height="24.10" fill="#1ea355"/>
<rect x="320.3" y="497.2" width="42.20" height="24.10" fill="#1ea355"/>
<rect x="362.5" y="497.2" width="41.25" height="24.10" fill="#f8e72a"/>
<rect x="403.75" y="497.2" width="40.00" height="24.10" fill="#fbb31c"/>
<rect x="443.75" y="497.2" width="35.50" height="24.10" fill="#1ea355"/>
<rect x="479.25" y="497.2" width="39.75" height="24.10" fill="#1ea355"/>
<rect x="2" y="521.3" width="278.5" height="35.700000000000045" fill="#ffffff"/>
<rect x="280.5" y="521.3" width="39.80" height="35.70" fill="#1ea355"/>
<rect x="320.3" y="521.3" width="42.20" height="35.70" fill="#1ea355"/>
<rect x="362.5" y="521.3" width="41.25" height="35.70" fill="#1ea355"/>
<rect x="403.75" y="521.3" width="40.00" height="35.70" fill="#1ea355"/>
<rect x="443.75" y="521.3" width="35.50" height="35.70" fill="#1ea355"/>
<rect x="479.25" y="521.3" width="39.75" height="35.70" fill="#f8e72a"/>
<rect x="2" y="557" width="278.5" height="25.600000000000023" fill="#ffffff"/>
<rect x="280.5" y="557" width="39.80" height="25.60" fill="#1ea355"/>
<rect x="320.3" y="557" width="42.20" height="25.60" fill="#1ea355"/>
<rect x="362.5" y="557" width="41.25" height="25.60" fill="#1ea355"/>
<rect x="403.75" y="557" width="40.00" height="25.60" fill="#1ea355"/>
<rect x="443.75" y="557" width="35.50" height="25.60" fill="#fcf7d6"/>
<rect x="479.25" y="557" width="39.75" height="25.60" fill="#fbb31c"/>
<rect x="2" y="582.6" width="278.5" height="24.799999999999955" fill="#ffffff"/>
<rect x="280.5" y="582.6" width="39.80" height="24.80" fill="#1ea355"/>
<rect x="320.3" y="582.6" width="42.20" height="24.80" fill="#1ea355"/>
<rect x="362.5" y="582.6" width="41.25" height="24.80" fill="#fcf7d6"/>
<rect x="403.75" y="582.6" width="40.00" height="24.80" fill="#fbb31c"/>
<rect x="443.75" y="582.6" width="35.50" height="24.80" fill="#f8e72a"/>
<rect x="479.25" y="582.6" width="39.75" height="24.80" fill="#f8e72a"/>
<path d="M1.5,348.8 H519.5" stroke="#0c2a5c" stroke-width="1.2"/>
<path d="M1.5,406.3 H519.5" stroke="#0b0f14" stroke-width="1.2"/>
<path d="M1.5,421.3 H519.5" stroke="#0b0f14" stroke-width="1.2"/>
<path d="M1.5,456.4 H519.5" stroke="#0b0f14" stroke-width="1.2"/>
<path d="M1.5,481.8 H519.5" stroke="#0b0f14" stroke-width="1.2"/>
<path d="M1.5,497.2 H519.5" stroke="#0b0f14" stroke-width="1.2"/>
<path d="M1.5,521.3 H519.5" stroke="#0b0f14" stroke-width="1.2"/>
<path d="M1.5,557 H519.5" stroke="#0b0f14" stroke-width="1.2"/>
<path d="M1.5,582.6 H519.5" stroke="#0b0f14" stroke-width="1.2"/>
<path d="M1.5,607.4 H519.5" stroke="#0b0f14" stroke-width="1.2"/>
<path d="M280.5,381 H519" stroke="#0c2a5c" stroke-width="1.1"/>
<path d="M2,348.8 V406.3" stroke="#0c2a5c" stroke-width="1"/>
<path d="M2,406.3 V607.4" stroke="#0b0f14" stroke-width="0.9"/>
<path d="M280.5,348.8 V406.3" stroke="#0c2a5c" stroke-width="1"/>
<path d="M280.5,406.3 V607.4" stroke="#0b0f14" stroke-width="0.9"/>
<path d="M320.3,381 V406.3" stroke="#0c2a5c" stroke-width="1"/>
<path d="M320.3,406.3 V607.4" stroke="#0b0f14" stroke-width="0.9"/>
<path d="M362.5,348.8 V406.3" stroke="#0c2a5c" stroke-width="1"/>
<path d="M362.5,406.3 V607.4" stroke="#0b0f14" stroke-width="0.9"/>
<path d="M403.75,381 V406.3" stroke="#0c2a5c" stroke-width="1"/>
<path d="M403.75,406.3 V607.4" stroke="#0b0f14" stroke-width="0.9"/>
<path d="M443.75,348.8 V406.3" stroke="#0c2a5c" stroke-width="1"/>
<path d="M443.75,406.3 V607.4" stroke="#0b0f14" stroke-width="0.9"/>
<path d="M479.25,381 V406.3" stroke="#0c2a5c" stroke-width="1"/>
<path d="M479.25,406.3 V607.4" stroke="#0b0f14" stroke-width="0.9"/>
<path d="M519,348.8 V406.3" stroke="#0c2a5c" stroke-width="1"/>
<path d="M519,406.3 V607.4" stroke="#0b0f14" stroke-width="0.9"/>
<text x="141.25" y="381.7" font-size="10.45" font-weight="bold" text-anchor="middle" fill="#f4f7fb">Key Target Toxicities</text>
<text x="321.5" y="360.3" font-size="8.6" font-weight="bold" text-anchor="middle" fill="#f4f7fb">BCMA CD3</text>
<text x="321.5" y="370" font-size="8.6" font-weight="bold" text-anchor="middle" fill="#f4f7fb">Bispecific</text>
<text x="403.125" y="360.3" font-size="8.6" font-weight="bold" text-anchor="middle" fill="#f4f7fb">BCMA ADC</text>
<text x="403.125" y="370" font-size="8.6" font-weight="bold" text-anchor="middle" fill="#f4f7fb">(Cleavable)</text>
<text x="481.375" y="360.3" font-size="8.6" font-weight="bold" text-anchor="middle" fill="#f4f7fb">BCMA ADC</text>
<text x="481.375" y="370" font-size="8.6" font-weight="bold" text-anchor="middle" fill="#f4f7fb">(Noncleavable)</text>
<text x="300.4" y="391.3" font-size="8.6" font-weight="bold" text-anchor="middle" fill="#f4f7fb">0.1</text>
<text x="300.4" y="401.2" font-size="8.6" font-weight="bold" text-anchor="middle" fill="#f4f7fb">mpk</text>
<text x="341.4" y="391.3" font-size="8.6" font-weight="bold" text-anchor="middle" fill="#f4f7fb">0.3 mpk</text>
<text x="383.125" y="391.3" font-size="8.6" font-weight="bold" text-anchor="middle" fill="#f4f7fb">6 mpk</text>
<text x="423.75" y="391.3" font-size="8.6" font-weight="bold" text-anchor="middle" fill="#f4f7fb">9 mpk</text>
<text x="461.5" y="391.3" font-size="8.6" font-weight="bold" text-anchor="middle" fill="#f4f7fb">6 mpk</text>
<text x="499.125" y="391.3" font-size="8.6" font-weight="bold" text-anchor="middle" fill="#f4f7fb">12 mpk</text>
<text x="300.4" y="416.90000000000003" font-size="8.7" text-anchor="middle" fill="#241f0c" stroke="#241f0c" stroke-width="0.12">1</text>
<text x="341.4" y="416.90000000000003" font-size="8.7" text-anchor="middle" fill="#241f0c" stroke="#241f0c" stroke-width="0.12">2</text>
<text x="383.125" y="416.90000000000003" font-size="8.7" text-anchor="middle" fill="#241f0c" stroke="#241f0c" stroke-width="0.12">1-2</text>
<text x="423.75" y="416.90000000000003" font-size="8.7" text-anchor="middle" fill="#241f0c" stroke="#241f0c" stroke-width="0.12">1-2</text>
<text x="300.4" y="441.95000000000005" font-size="8.7" text-anchor="middle" fill="#241f0c" stroke="#241f0c" stroke-width="0.12">1-2</text>
<text x="341.4" y="441.95000000000005" font-size="8.7" text-anchor="middle" fill="#241f0c" stroke="#241f0c" stroke-width="0.12">1-3</text>
<text x="383.125" y="441.95000000000005" font-size="8.7" text-anchor="middle" fill="#241f0c" stroke="#241f0c" stroke-width="0.12">1-2</text>
<text x="423.75" y="441.95000000000005" font-size="8.7" text-anchor="middle" fill="#241f0c" stroke="#241f0c" stroke-width="0.12">2-3</text>
<text x="461.5" y="441.95000000000005" font-size="8.7" text-anchor="middle" fill="#241f0c" stroke="#241f0c" stroke-width="0.12">1-2</text>
<text x="499.125" y="441.95000000000005" font-size="8.7" text-anchor="middle" fill="#241f0c" stroke="#241f0c" stroke-width="0.12">1-3</text>
<text x="300.4" y="472.20000000000005" font-size="8.7" text-anchor="middle" fill="#241f0c" stroke="#241f0c" stroke-width="0.12">1</text>
<text x="341.4" y="472.20000000000005" font-size="8.7" text-anchor="middle" fill="#241f0c" stroke="#241f0c" stroke-width="0.12">1</text>
<text x="499.125" y="472.20000000000005" font-size="8.7" text-anchor="middle" fill="#241f0c" stroke="#241f0c" stroke-width="0.12">1</text>
<text x="383.125" y="492.6" font-size="8.7" text-anchor="middle" fill="#241f0c" stroke="#241f0c" stroke-width="0.12">1-2</text>
<text x="423.75" y="492.6" font-size="8.7" text-anchor="middle" fill="#241f0c" stroke="#241f0c" stroke-width="0.12">1-3</text>
<text x="383.125" y="512.35" font-size="8.7" text-anchor="middle" fill="#241f0c" stroke="#241f0c" stroke-width="0.12">1-2</text>
<text x="423.75" y="512.35" font-size="8.7" text-anchor="middle" fill="#241f0c" stroke="#241f0c" stroke-width="0.12">2-3</text>
<text x="499.125" y="542.25" font-size="8.7" text-anchor="middle" fill="#241f0c" stroke="#241f0c" stroke-width="0.12">1-2</text>
<text x="461.5" y="572.9" font-size="8.7" text-anchor="middle" fill="#241f0c" stroke="#241f0c" stroke-width="0.12">1</text>
<text x="499.125" y="572.9" font-size="8.7" text-anchor="middle" fill="#241f0c" stroke="#241f0c" stroke-width="0.12">1-3</text>
<text x="383.125" y="598.1" font-size="8.7" text-anchor="middle" fill="#241f0c" stroke="#241f0c" stroke-width="0.12">1</text>
<text x="423.75" y="598.1" font-size="8.7" text-anchor="middle" fill="#241f0c" stroke="#241f0c" stroke-width="0.12">1-3</text>
<text x="461.5" y="598.1" font-size="8.7" text-anchor="middle" fill="#241f0c" stroke="#241f0c" stroke-width="0.12">1-2</text>
<text x="499.125" y="598.1" font-size="8.7" text-anchor="middle" fill="#241f0c" stroke="#241f0c" stroke-width="0.12">1-2</text>
<text x="7" y="416" font-size="8.5" fill="#111" stroke="#111" stroke-width="0.18" xml:space="preserve"><tspan font-weight="bold">Bone Marrow:</tspan> Decreased cellularity and/or increased megakaryocyte</text>
<text x="7" y="431.3" font-size="8.5" fill="#111" stroke="#111" stroke-width="0.18" xml:space="preserve"><tspan font-weight="bold">Lymphoid Tissue (spleen, lymph nodes and tonsil):</tspan>  Decreased</text>
<text x="7" y="441.5" font-size="8.5" fill="#111" stroke="#111" stroke-width="0.18" xml:space="preserve">Lymphocytes at germinal center and/or increased mitoses/single cell</text>
<text x="7" y="451.7" font-size="8.5" fill="#111" stroke="#111" stroke-width="0.18" xml:space="preserve">necrosis</text>
<text x="7" y="466.3" font-size="8.5" fill="#111" stroke="#111" stroke-width="0.18" xml:space="preserve"><tspan font-weight="bold">Liver:</tspan> increased cellularity sinusoids, increased mitosis/single cell</text>
<text x="7" y="476.5" font-size="8.5" fill="#111" stroke="#111" stroke-width="0.18" xml:space="preserve">necrosis of sinusoids, infiltrating mononuclear cells</text>
<text x="7" y="491.4" font-size="8.5" fill="#111" stroke="#111" stroke-width="0.18" xml:space="preserve"><tspan font-weight="bold">Lung:</tspan> Edema/Inflammation, interstitial fibrosis</text>
<text x="7" y="506.5" font-size="8.5" fill="#111" stroke="#111" stroke-width="0.18" xml:space="preserve"><tspan font-weight="bold">Eye</tspan>:  increase mitosis/single cell necrosis, corneal atrophy, deposition</text>
<text x="7" y="516.7" font-size="8.5" fill="#111" stroke="#111" stroke-width="0.18" xml:space="preserve">pigment in cornea</text>
<text x="7" y="531.4" font-size="8.5" fill="#111" stroke="#111" stroke-width="0.18" xml:space="preserve"><tspan font-weight="bold">Kidney:</tspan> degeneration/regeneration tubular epithelium,</text>
<text x="7" y="541.8" font-size="8.5" fill="#111" stroke="#111" stroke-width="0.18" xml:space="preserve">glomerularnephropathy, increased mitosis/single cell necrosis tubular</text>
<text x="7" y="552" font-size="8.5" fill="#111" stroke="#111" stroke-width="0.18" xml:space="preserve">epithelium</text>
<text x="7" y="567" font-size="8.5" fill="#111" stroke="#111" stroke-width="0.18" xml:space="preserve"><tspan font-weight="bold">GI Tract (stomach, duodenum and ileum):</tspan> increased mitosis/single</text>
<text x="7" y="577.1" font-size="8.5" fill="#111" stroke="#111" stroke-width="0.18" xml:space="preserve">cell necrosis glands and/or crypts</text>
<text x="7" y="591.9" font-size="8.5" fill="#111" stroke="#111" stroke-width="0.18" xml:space="preserve"><tspan font-weight="bold">Injection Site</tspan> inflammation/edema, perivascular thrombosis, increased</text>
<text x="7" y="601.9" font-size="8.5" fill="#111" stroke="#111" stroke-width="0.18" xml:space="preserve">mitoses and single cell necrosis, hyperplasia in epidermis</text>
</g>
<text x="2.6" y="628.7" font-size="10.22" fill="#111" xml:space="preserve"><tspan font-weight="bold">No findings in</tspan>: heart, colon, jejunum, optic nerve, peripheral nerve, lacrimal gland gall bladder or skin.</text>
</svg>
</body>
</html>
